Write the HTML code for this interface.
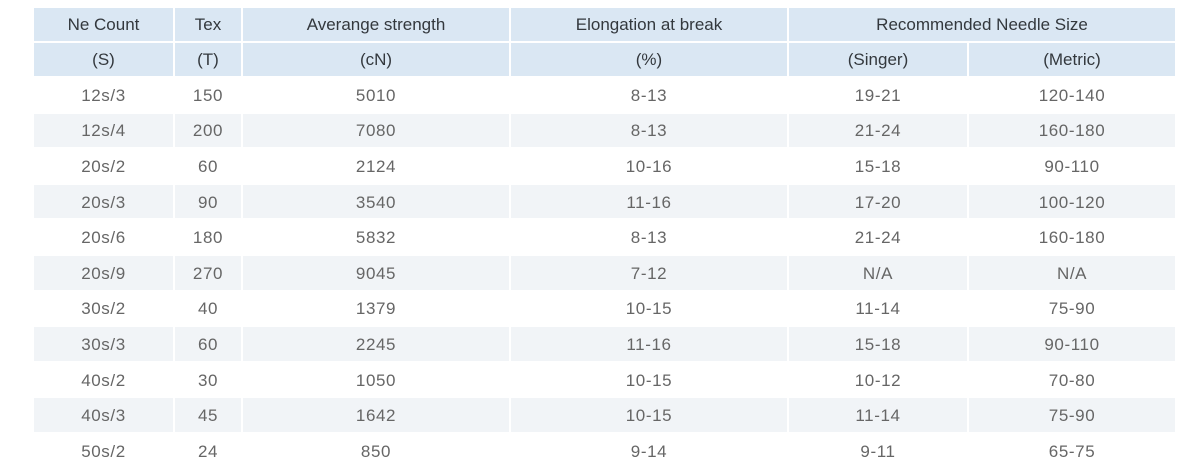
<!DOCTYPE html>
<html><head><meta charset="utf-8"><style>
html,body{margin:0;padding:0;background:#fff;width:1199px;height:460px;overflow:hidden}
table{position:absolute;left:32px;top:6px;border-collapse:separate;border-spacing:2px;table-layout:fixed;width:1145px;font-family:"Liberation Sans",sans-serif;font-size:17px}
td,th{text-align:center;padding:0;vertical-align:middle}
th{background:#dae7f3;color:#33383d;font-weight:normal;height:33px}
td{color:#666;height:31.6px;padding-top:2px;letter-spacing:0.6px}
tr.s td{background:#f1f4f7}
</style></head><body>
<table>
<colgroup><col style="width:139px"><col style="width:66px"><col style="width:266px"><col style="width:276px"><col style="width:178px"><col style="width:206px"></colgroup>
<tr><th>Ne Count</th><th>Tex</th><th>Averange strength</th><th>Elongation at break</th><th colspan="2">Recommended Needle Size</th></tr>
<tr><th>(S)</th><th>(T)</th><th>(cN)</th><th>(%)</th><th>(Singer)</th><th>(Metric)</th></tr>
<tr><td>12s/3</td><td>150</td><td>5010</td><td>8-13</td><td>19-21</td><td>120-140</td></tr>
<tr class="s"><td>12s/4</td><td>200</td><td>7080</td><td>8-13</td><td>21-24</td><td>160-180</td></tr>
<tr><td>20s/2</td><td>60</td><td>2124</td><td>10-16</td><td>15-18</td><td>90-110</td></tr>
<tr class="s"><td>20s/3</td><td>90</td><td>3540</td><td>11-16</td><td>17-20</td><td>100-120</td></tr>
<tr><td>20s/6</td><td>180</td><td>5832</td><td>8-13</td><td>21-24</td><td>160-180</td></tr>
<tr class="s"><td>20s/9</td><td>270</td><td>9045</td><td>7-12</td><td>N/A</td><td>N/A</td></tr>
<tr><td>30s/2</td><td>40</td><td>1379</td><td>10-15</td><td>11-14</td><td>75-90</td></tr>
<tr class="s"><td>30s/3</td><td>60</td><td>2245</td><td>11-16</td><td>15-18</td><td>90-110</td></tr>
<tr><td>40s/2</td><td>30</td><td>1050</td><td>10-15</td><td>10-12</td><td>70-80</td></tr>
<tr class="s"><td>40s/3</td><td>45</td><td>1642</td><td>10-15</td><td>11-14</td><td>75-90</td></tr>
<tr><td>50s/2</td><td>24</td><td>850</td><td>9-14</td><td>9-11</td><td>65-75</td></tr>
</table>
</body></html>
